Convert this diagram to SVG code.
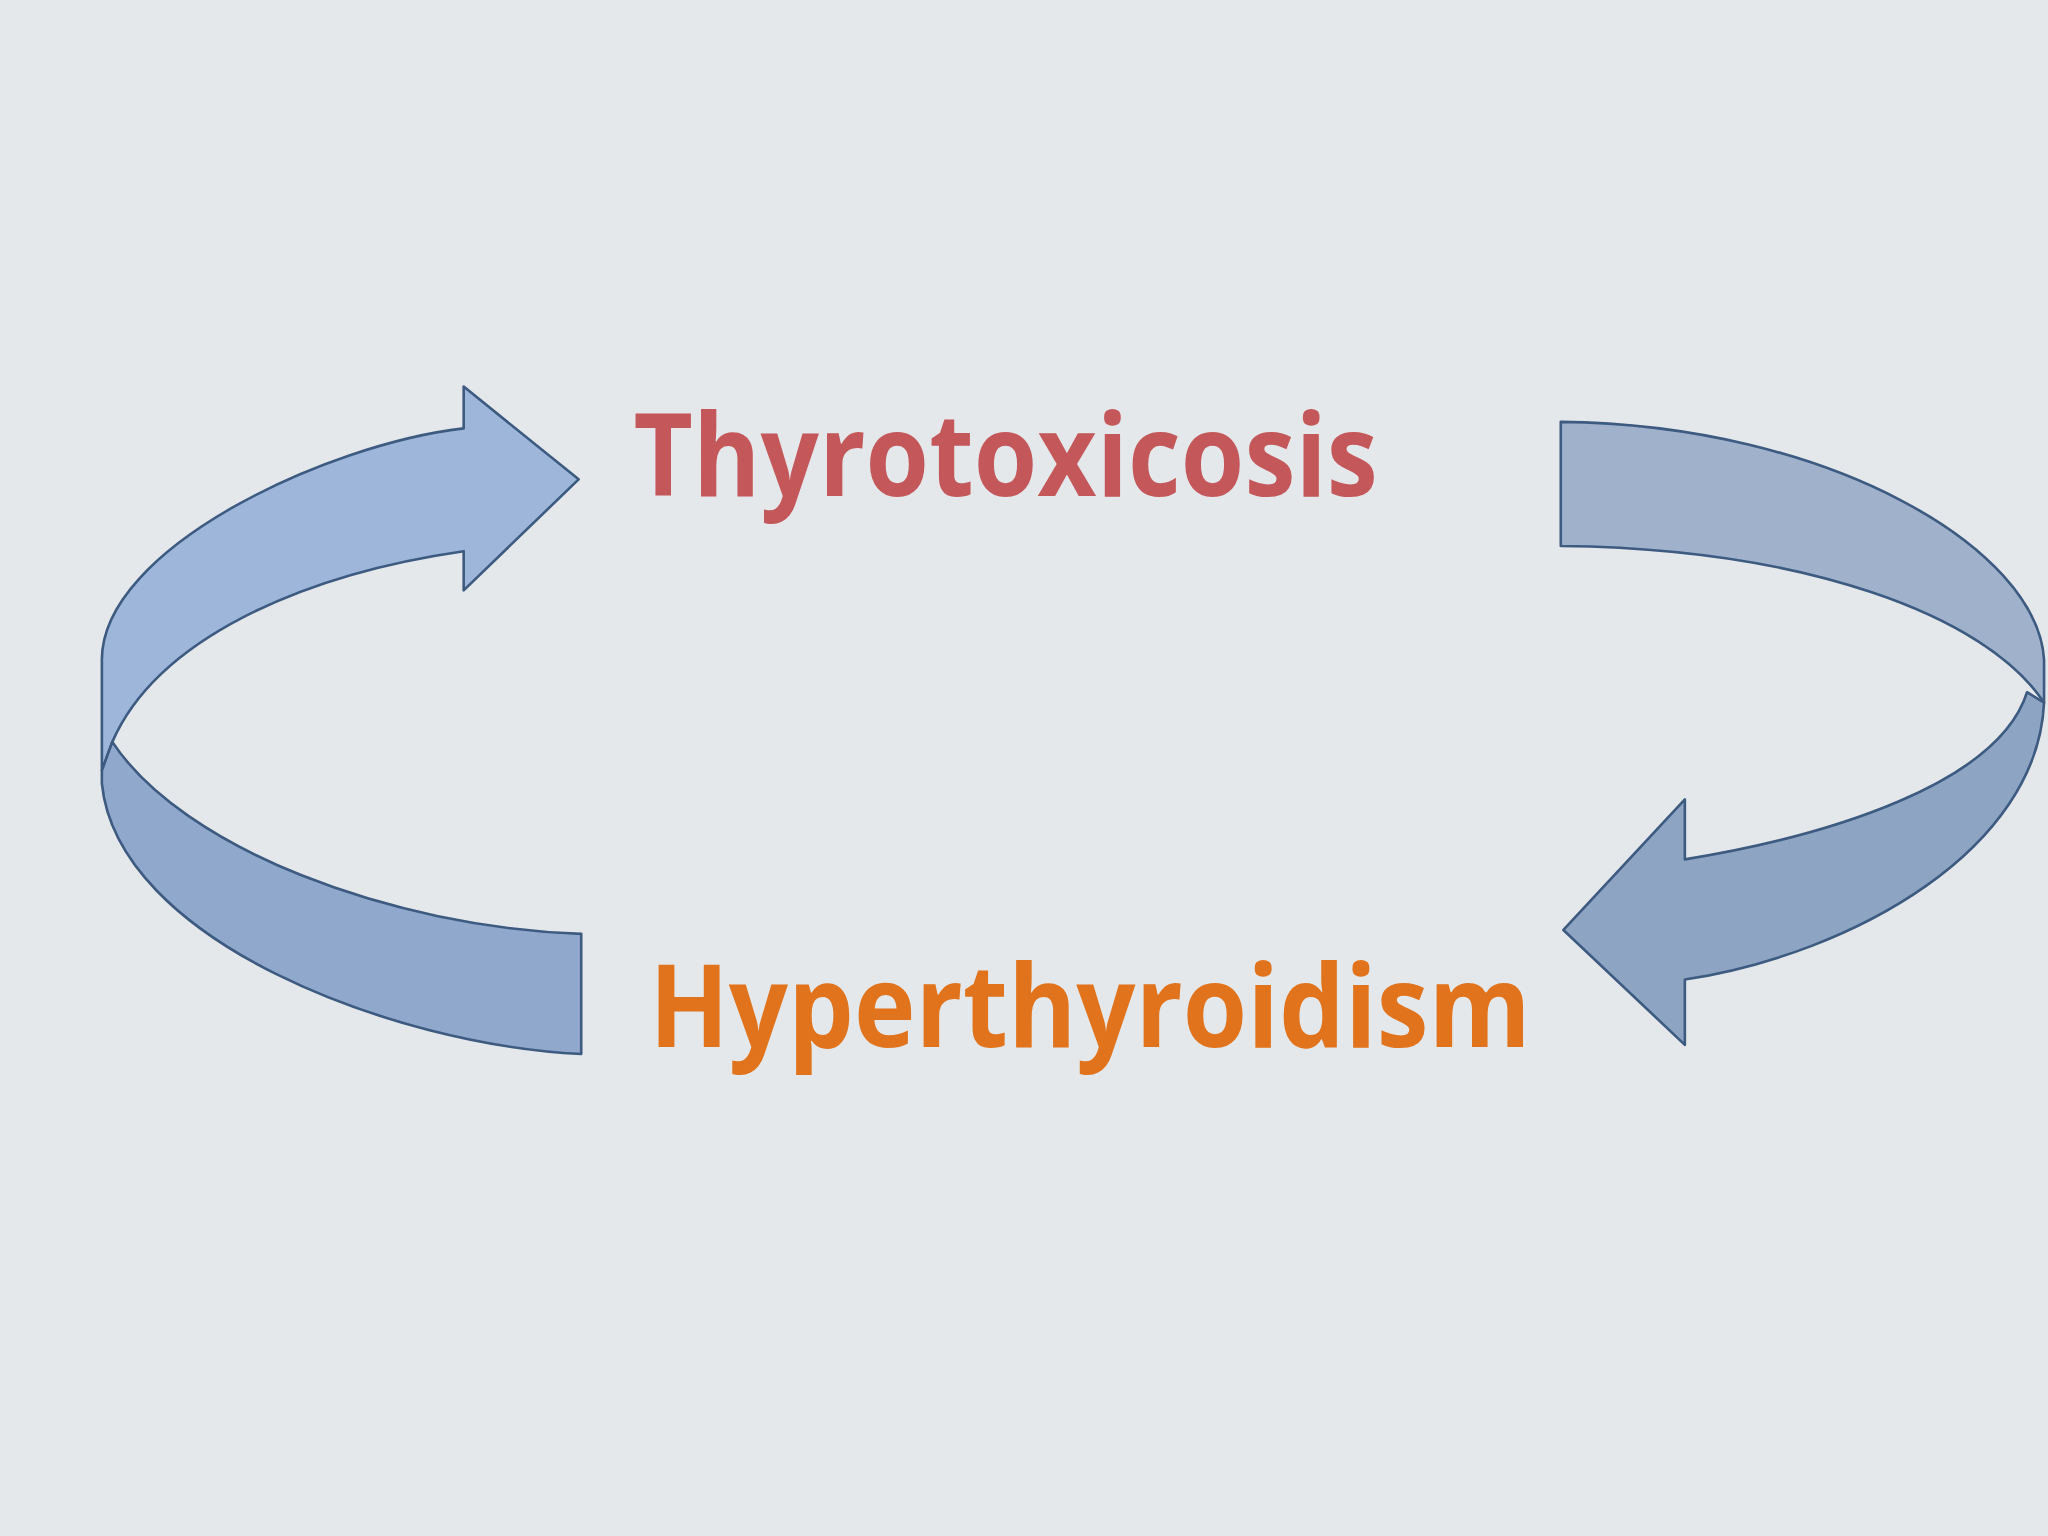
<svg xmlns="http://www.w3.org/2000/svg" width="2048" height="1536" viewBox="0 0 2048 1536">
<style>
.a{stroke:#3d5a80;stroke-width:2;stroke-linejoin:round}
.t{font-family:"Open Sans","Liberation Sans",sans-serif;font-weight:bold;font-size:88px}
</style>
<rect width="2048" height="1536" fill="#e5e8ea"/>
<g transform="scale(1.3061)">
<g id="left-arrow">
<path class="a" fill="#9db6da" d="M78,505 C78,420 250,340 355,328 L355,296 L443,367 L355,452 L355,422 C230,440 120,490 86,568 L78,590 Z"/>
<path class="a" fill="#90a8cc" d="M78,590 L86,568 C140,650 300,710 445,715 L445,807 C300,800 90,720 78,600 Z"/>
</g>
<g id="right-arrow">
<path class="a" fill="#a0b1cb" d="M1195,323 C1400,325 1560,420 1565,505 L1565,538 C1520,470 1380,420 1195,418 Z"/>
<path class="a" fill="#8ea4c3" d="M1565,538 C1560,650 1420,730 1290,750 L1290,800 L1197,712 L1290,612 L1290,658 C1400,640 1530,600 1552,530 Z"/>
</g>
<g id="thyrotoxicosis"><text class="t" x="485" y="380" fill="#c4575a" textLength="570" lengthAdjust="spacingAndGlyphs">Thyrotoxicosis</text></g>
<g id="hyperthyroidism"><text class="t" x="497" y="802" fill="#e0731c" textLength="675" lengthAdjust="spacingAndGlyphs">Hyperthyroidism</text></g>
</g>
</svg>
